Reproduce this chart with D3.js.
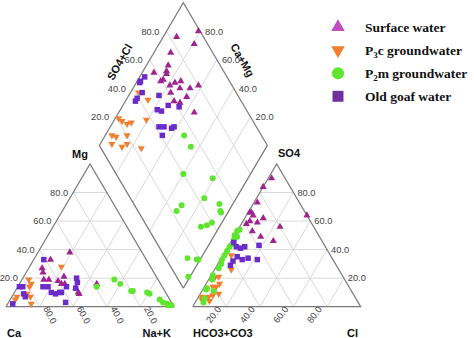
<!DOCTYPE html>
<html>
<head>
<meta charset="utf-8">
<script src="https://cdn.jsdelivr.net/npm/d3@7"></script>
<style>
body { margin: 0; background: #fff; }
text { font-family: Arial, "Liberation Sans", sans-serif; }
</style>
</head>
<body>
<div id="piper"></div>
<script>
// groups, legend order
var groupNames = ["Surface water", "P3c groundwater", "P2m groundwater", "Old goaf water"];
var groupColors = ["#a0248f", "#f07f2e", "#5ee62f", "#6a2bc8"];
var legendColors = ["#c04cc0", "#f07f2e", "#5ee62f", "#7030a0"];
var gridTicks = [20, 40, 60, 80];

// cation triangle [Ca, Mg, Na+K] %
var surfaceCation = [[43,38,19],[57,33,10],[65,27,8],[66,24,10],[68,19,13],[65,19,16],[60,18,22],[55,21,24],[59,16,25],[57,16,27],[52,13,35],[52,10,38],[52,9,39],[38,16,46]];
var p3cCation = [[53,28,19],[77,19,4],[77,16,7],[79,14,7],[83,9,8],[82,7,11],[84,2,14],[90,7,3],[92,5,3]];
var p2mCation = [[39,14,47],[26,19,55],[24,16,60],[20,11,69],[19,11,70],[11,10,79],[10,9,81],[6,5,89],[5,3,92],[3,2,95],[2,1,97],[3,1,96],[1,1,98]];
var goafCation = [[61,33,6],[83,14,3],[85,14,1],[85,9,6],[85,7,8],[95,2,3],[71,14,15],[68,14,18],[68,10,22],[66,9,25],[63,10,27],[62,10,28],[57,14,29],[48,20,32],[49,17,34],[52,13,35],[63,3,34]];

// anion triangle [HCO3+CO3, SO4, Cl] %
var surfaceAnion = [[8,90,2],[16,84,0],[25,73,2],[33,66,1],[32,66,2],[32,64,4],[27,62,11],[39,58,3],[36,60,4],[32,59,9],[38,53,9],[35,49,16],[20,56,24],[29,46,25],[0,64,36]];
var p3cAnion = [[64,26,10],[59,36,5],[74,21,5],[77,20,3],[76,16,8],[79,14,7],[81,14,5],[80,9,11],[84,8,8],[87,7,6],[91,7,2],[92,5,3],[88,4,8]];
var p2mAnion = [[45,54,1],[47,53,0],[50,50,0],[49,49,2],[52,47,1],[54,44,2],[57,42,1],[60,39,1],[63,36,1],[66,33,1],[68,30,2],[71,27,2],[77,22,1],[79,19,2],[85,13,2],[86,12,2],[82,11,7],[90,6,4],[92,3,5]];
var goafAnion = [[53,45,2],[53,42,5],[51,41,8],[48,42,10],[39,43,18],[56,35,9],[54,33,13],[50,34,16],[45,33,22],[60,32,8],[63,29,8]];

// diamond [Ca+Mg, SO4+Cl] %
var surfaceDiamond = [[81,99],[92,84],[79,92],[90,75],[87,69],[86,66],[85,65],[93,58],[86,59],[85,61],[79,63],[77,67],[74,71],[76,61],[72,68],[65,69],[66,74],[62,80],[71,60],[67,63],[55,68]];
var p3cDiamond = [[87,45],[95,42],[98,21],[95,22],[91,24],[89,27],[81,37],[96,11],[93,13],[87,20],[93,8],[86,13],[84,17],[74,24]];
var p2mDiamond = [[53,54],[45,54],[40,40],[21,56],[19,44],[30,28],[31,23],[8,51],[5,49],[4,49],[6,40],[8,36],[11,32],[8,13],[2,18],[1,19],[1,7]];
var goafDiamond = [[97,51],[98,47],[98,46],[93,44],[94,39],[94,37],[82,53],[78,47],[75,49],[73,55],[66,61],[71,42],[68,45],[63,49],[62,51],[66,41]];

var cationSets = [surfaceCation, p3cCation, p2mCation, goafCation];
var anionSets = [surfaceAnion, p3cAnion, p2mAnion, goafAnion];
var diamondSets = [surfaceDiamond, p3cDiamond, p2mDiamond, goafDiamond];

var width = 474, height = 338;
var s = Math.sqrt(3) / 2;
var gap = 0.111;        // space between triangles (unit = triangle side)
var dBase = 0.113;      // height of diamond bottom vertex

var x = d3.scaleLinear().domain([0, 1]).range([6, 174]);
var y = d3.scaleLinear().domain([0, s]).range([306.7, 164]);

function cat(p) { return [p[2] / 100 + p[1] / 200, p[1] / 100 * s]; }
function ani(p) { return [1 + gap + p[2] / 100 + p[1] / 200, p[1] / 100 * s]; }
function dia(p) { var a = p[0] / 100, b = p[1] / 100; return [1 + gap / 2 + (b - a) / 2, dBase + (a + b) * s]; }

var svg = d3.select('#piper').append('svg')
	.attr('width', width)
	.attr('height', height);

var line = d3.line()
	.x(function(d) { return x(d[0]); })
	.y(function(d) { return y(d[1]); });

var gridG = svg.append('g');
var frameG = svg.append('g');

function seg(a, b) {
	gridG.append('path').attr('d', line([a, b]))
		.attr('stroke', '#d9d9d9').attr('stroke-width', 1).attr('fill', 'none');
}

// triangle grids
[0, 1 + gap].forEach(function(ox) {
	gridTicks.forEach(function(t) {
		var f = t / 100;
		seg([ox + f / 2, f * s], [ox + 1 - f / 2, f * s]);
		seg([ox + f, 0], [ox + f / 2, f * s]);
		seg([ox + f, 0], [ox + (1 + f) / 2, (1 - f) * s]);
	});
	frameG.append('path')
		.attr('d', line([[ox, 0], [ox + 1, 0], [ox + 0.5, s], [ox, 0]]))
		.attr('stroke', '#7a7a7a').attr('stroke-width', 1.2).attr('fill', 'none');
});

// diamond grid
gridTicks.forEach(function(t) {
	seg(dia([t, 0]), dia([t, 100]));
	seg(dia([0, t]), dia([100, t]));
});
frameG.append('path')
	.attr('d', line([dia([0, 0]), dia([100, 0]), dia([100, 100]), dia([0, 100]), dia([0, 0])]))
	.attr('stroke', '#7a7a7a').attr('stroke-width', 1.2).attr('fill', 'none');

// tick labels
var tickG = svg.append('g').attr('font-size', 9.3).attr('fill', '#444');
function fmt(v) { return v.toFixed(1); }

gridTicks.forEach(function(t) {
	var f = t / 100;
	// Mg on left edge
	tickG.append('text').attr('x', x(f / 2) - 5).attr('y', y(f * s) + 3.3)
		.attr('text-anchor', 'end').text(fmt(t));
	// Ca along the bottom
	var cx = x(f) + 3.4;
	tickG.append('text').attr('text-anchor', 'start')
		.attr('transform', 'translate(' + cx + ',308.5) rotate(62)').text(fmt(100 - t));
	// SO4 on right edge of anion triangle
	tickG.append('text').attr('x', x(1 + gap + 1 - f / 2) + 4).attr('y', y(f * s) + 3.3)
		.attr('text-anchor', 'start').text(fmt(t));
	// Cl along the bottom
	var ax = x(1 + gap + f) - 4.5;
	tickG.append('text').attr('text-anchor', 'end')
		.attr('transform', 'translate(' + ax + ',309.5) rotate(-52)').text(fmt(t));
	// diamond, SO4+Cl on upper-left edge
	var p = dia([100, t]);
	tickG.append('text').attr('x', x(p[0]) - 7).attr('y', y(p[1]) + 3.3)
		.attr('text-anchor', 'end').text(fmt(t));
	// diamond, Ca+Mg on upper-right edge
	var q = dia([t, 100]);
	tickG.append('text').attr('x', x(q[0]) + 5).attr('y', y(q[1]) + 3.3)
		.attr('text-anchor', 'start').text(fmt(t));
});

// axis titles
var titleG = svg.append('g').attr('font-size', 11).attr('font-weight', 'bold').attr('fill', '#111');
titleG.append('text').attr('x', 7).attr('y', 337).text('Ca');
titleG.append('text').attr('x', 171).attr('y', 337).attr('text-anchor', 'end').text('Na+K');
titleG.append('text').attr('x', 88).attr('y', 158).attr('text-anchor', 'end').text('Mg');
titleG.append('text').attr('x', 193).attr('y', 337).text('HCO3+CO3');
titleG.append('text').attr('x', 358).attr('y', 337).attr('text-anchor', 'end').text('Cl');
titleG.append('text').attr('x', 278).attr('y', 157).text('SO4');
titleG.append('text').attr('text-anchor', 'middle')
	.attr('transform', 'translate(123,64) rotate(-60)').text('SO4+Cl');
titleG.append('text').attr('text-anchor', 'middle')
	.attr('transform', 'translate(239,62) rotate(60)').text('Ca+Mg');

// markers
var shapes = [d3.symbolTriangle, d3.symbolTriangle, d3.symbolCircle, d3.symbolSquare];
var rot = [0, 180, 0, 0];
var sizes = [22, 22, 28, 30];

var pointG = svg.append('g');
[0, 1, 2, 3].forEach(function(i) {
	var pts = cationSets[i].map(cat)
		.concat(anionSets[i].map(ani))
		.concat(diamondSets[i].map(dia));
	pointG.selectAll('.g' + i)
		.data(pts)
		.enter().append('path')
		.attr('class', 'g' + i)
		.attr('d', d3.symbol().type(shapes[i]).size(sizes[i]))
		.attr('fill', groupColors[i])
		.attr('transform', function(d) {
			return 'translate(' + x(d[0]) + ',' + y(d[1]) + ') rotate(' + rot[i] + ')';
		});
});

// legend
var legendSizes = [80, 80, 115, 120];
var legend = svg.append('g');
groupNames.forEach(function(name, i) {
	var ly = 27 + i * 23.1;
	legend.append('path')
		.attr('d', d3.symbol().type(shapes[i]).size(legendSizes[i]))
		.attr('fill', legendColors[i])
		.attr('transform', 'translate(338,' + ly + ') rotate(' + rot[i] + ')');
	var t = legend.append('text')
		.attr('x', 365).attr('y', ly + 4.8)
		.style('font-family', '"Liberation Serif", "Times New Roman", serif')
		.attr('font-weight', 'bold').attr('font-size', 13.5).attr('fill', '#111');
	var m = name.match(/^P(\d)(.*)$/);
	if (m) {
		t.append('tspan').text('P');
		t.append('tspan').attr('font-size', 9).attr('dy', 3).text(m[1]);
		t.append('tspan').attr('dy', -3).text(m[2]);
	} else {
		t.text(name);
	}
});
</script>
</body>
</html>
